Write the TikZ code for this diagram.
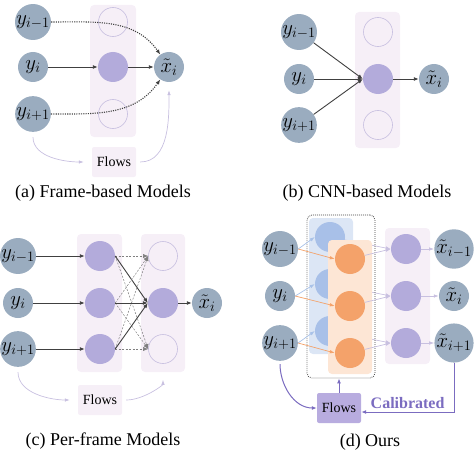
\documentclass[tikz,border=0pt]{standalone}
\usepackage{fontspec}
\setmainfont{Liberation Serif}
\usepackage{xcolor}
\usepackage{tikz}
\usetikzlibrary{arrows.meta, positioning, calc}

\definecolor{ygray}{HTML}{9AACBF}
\definecolor{hpurple}{HTML}{B3ABDB}
\definecolor{hline}{HTML}{C6BEDF}
\definecolor{colbg}{HTML}{F6EFF7}
\definecolor{bluebg}{HTML}{DCE6F5}
\definecolor{bluec}{HTML}{A8C0E8}
\definecolor{bluearr}{HTML}{A9C2E8}
\definecolor{orangebg}{HTML}{FDE6D5}
\definecolor{orangec}{HTML}{F4A26A}
\definecolor{flowpurple}{HTML}{B8ACDF}
\definecolor{calpurple}{HTML}{7B6CC0}
\definecolor{darkarr}{HTML}{404040}
\definecolor{lightarr}{HTML}{C8C0E0}

\tikzset{
  obs/.style={circle, fill=ygray, minimum size=30pt, inner sep=0pt, font=\fontsize{21}{21}\selectfont},
  hid/.style={circle, fill=#1, minimum size=30pt, inner sep=0pt},
  hid/.default=hpurple,
  emp/.style={circle, draw=hline, line width=0.6pt, minimum size=29pt, inner sep=0pt},
  flowbox/.style={rectangle, fill=#1, rounded corners=2pt, minimum width=44pt, minimum height=30pt, inner sep=0pt, font=\fontsize{14}{14}\selectfont},
  flowbox/.default=colbg,
  captext/.style={font=\fontsize{18}{20}\selectfont},
  arr/.style={draw=darkarr, line width=0.9pt, -{Latex[length=5pt,width=4pt]}},
  dotarr/.style={arr, line width=1.1pt, dash pattern=on 1.1pt off 1.2pt},
  dasharr/.style={draw=gray, line width=0.5pt, dash pattern=on 2pt off 1.5pt, -{Latex[length=5pt,width=4pt]}},
  larr/.style={draw=lightarr, line width=0.7pt, -{Latex[length=5pt,width=3.5pt]}},
  parr/.style={draw=calpurple, line width=1pt, -{Latex[length=5pt,width=4pt]}},
}

\begin{document}
\begin{tikzpicture}[x=1pt, y=-1pt]
  \useasboundingbox (0,0) rectangle (474,452);
  \def\rc{4pt}

  % (a) frame-based
  \fill[colbg, rounded corners=\rc] (90,5) rectangle (136,137);
  \node[obs] (ya1) at (33,22) {$y_{i-1}$};
  \node[obs] (ya2) at (33,67) {$y_i$};
  \node[obs] (ya3) at (33,114) {$y_{i+1}$};
  \node[emp] (ha1) at (113,22) {};
  \node[hid] (ha2) at (113,67) {};
  \node[emp] (ha3) at (113,114) {};
  \node[obs] (xa) at (169,67) {$\tilde{x}_i$};
  \node[flowbox] (fa) at (114,162) {Flows};
  \draw[arr] (ya2) -- (ha2);
  \draw[arr] (ha2) -- (xa);
  \draw[dotarr] (ya1) to[out=0, in=125] (xa);
  \draw[dotarr] (ya3) to[out=0, in=-125] (xa);
  \draw[larr, shorten <=5pt, shorten >=8pt] (ya3) to[out=-90, in=180] (fa);
  \draw[larr, shorten <=4pt, shorten >=8pt] (fa) to[out=0, in=-90] (xa);
  \node[captext] (capa) at (103,193) {(a) Frame-based Models};

  % (b) cnn-based
  \fill[colbg, rounded corners=\rc] (355,12) rectangle (400,148);
  \node[obs] (yb1) at (299,32) {$y_{i-1}$};
  \node[obs] (yb2) at (299,79) {$y_i$};
  \node[obs] (yb3) at (299,125) {$y_{i+1}$};
  \node[emp] (hb1) at (378,32) {};
  \node[hid] (hb2) at (378,79) {};
  \node[emp] (hb3) at (378,125) {};
  \node[obs] (xb) at (434,79) {$\tilde{x}_i$};
  \foreach \j in {1,2,3}
    \draw[arr] (yb\j) -- (hb2.west);
  \draw[arr] (hb2) -- (xb);
  \node[captext] (capb) at (367,193) {(b) CNN-based Models};

  % (c) per-frame
  \fill[colbg, rounded corners=\rc] (77,234) rectangle (122,372);
  \fill[colbg, rounded corners=\rc] (141,234) rectangle (185,372);
  \node[obs] (yc1) at (18,256) {$y_{i-1}$};
  \node[obs] (yc2) at (18,303) {$y_i$};
  \node[obs] (yc3) at (18,349) {$y_{i+1}$};
  \foreach \j/\yy in {1/256,2/303,3/349}
    \node[hid] (hc\j) at (100,\yy) {};
  \node[emp] (gc1) at (163,256) {};
  \node[hid] (gc2) at (163,303) {};
  \node[emp] (gc3) at (163,349) {};
  \node[obs] (xc) at (207,303) {$\tilde{x}_i$};
  \node[flowbox] (fc) at (100,400) {Flows};
  \foreach \j in {1,2,3} {
    \draw[arr] (yc\j) -- (hc\j);
    \draw[dasharr] (hc\j.east) -- (gc1.west);
    \draw[dasharr] (hc\j.east) -- (gc3.west);
    \draw[arr] (hc\j.east) -- (gc2.west);
  }
  \draw[arr] (gc2) -- (xc);
  \draw[larr, shorten <=5pt, shorten >=8pt] (yc3) to[out=-90, in=180] (fc);
  \draw[larr, shorten <=4pt, shorten >=16pt] (fc) to[out=0, in=-90] (gc3);
  \node[captext] (capc) at (103,441) {(c) Per-frame Models};

  % (d) ours
  \fill[bluebg, rounded corners=\rc] (309,218) rectangle (353,354);
  \fill[colbg, rounded corners=\rc] (385,228) rectangle (430,364);
  \foreach \j/\yy in {1/237,2/284,3/331}
    \node[hid=bluec] (bd\j) at (330,\yy) {};
  \foreach \j/\yy in {1/249,2/296,3/343}
    \node[hid] (pd\j) at (406,\yy) {};
  \foreach \j in {1,2,3}
    \draw[larr] (bd\j) -- (pd\j.west);
  \fill[orangebg, rounded corners=\rc] (328,240) rectangle (372,374);
  \foreach \j/\yy in {1/259,2/306,3/353}
    \node[hid=orangec] (od\j) at (350,\yy) {};
  \node[draw=darkarr, line width=0.8pt, dash pattern=on 0.8pt off 1.2pt, rounded corners=5pt, minimum width=68pt, minimum height=163pt, inner sep=0pt] (enc) at (341,296.5) {};
  \node[obs] (yd1) at (280,249) {$y_{i-1}$};
  \node[obs] (yd2) at (280,296) {$y_i$};
  \node[obs] (yd3) at (280,343) {$y_{i+1}$};
  \node[obs] (xd1) at (454,249) {$\tilde{x}_{i-1}$};
  \node[obs] (xd2) at (454,296) {$\tilde{x}_i$};
  \node[obs] (xd3) at (454,343) {$\tilde{x}_{i+1}$};
  \foreach \j in {1,2,3} {
    \draw[larr, draw=bluearr] (yd\j.east) -- (bd\j.west);
    \draw[larr, draw=orangec] (yd\j.east) -- (od\j.west);
    \draw[larr] (od\j) -- (pd\j.west);
    \draw[larr] (pd\j) -- (xd\j);
  }
  \node[flowbox=flowpurple] (fd) at (339,408) {Flows};
  \draw[parr] (fd.north) -- (fd.north |- enc.south);
  \draw[parr, shorten <=3pt] (yd3) to[out=-90, in=180] (fd);
  \draw[parr] (xd3) |- node[pos=0.75, above, text=calpurple, font=\bfseries\fontsize{16}{16}\selectfont] {Calibrated} ([yshift=-4pt]fd.east);
  \node[captext] (capd) at (370,442) {(d) Ours};
\end{tikzpicture}
\end{document}
